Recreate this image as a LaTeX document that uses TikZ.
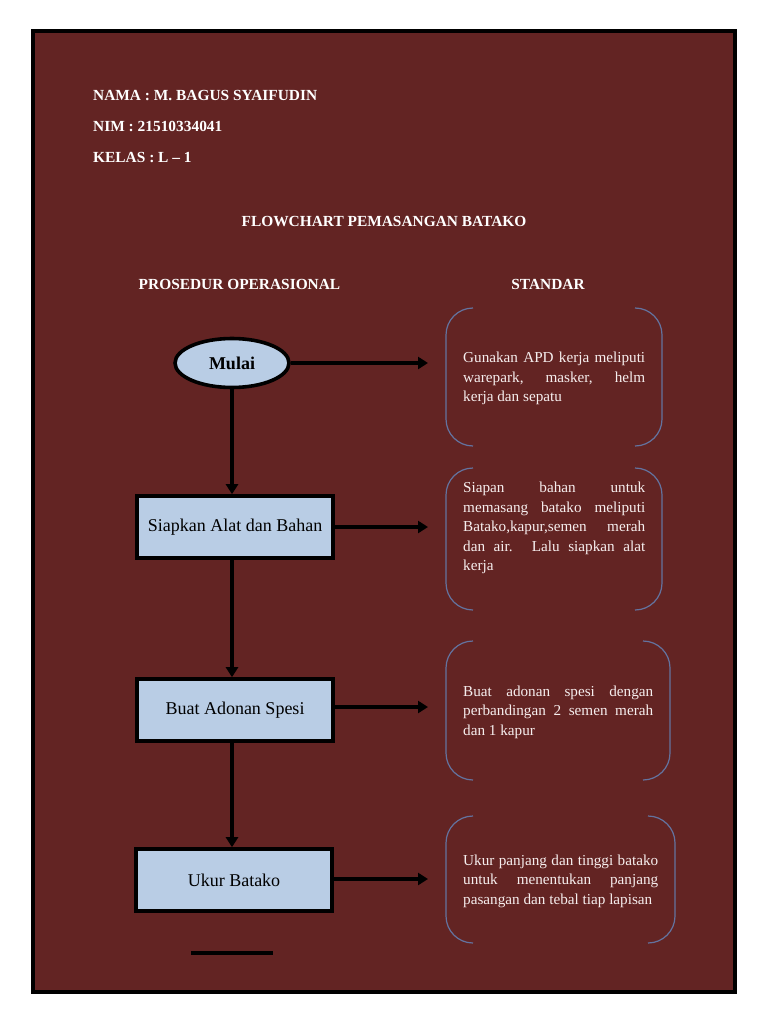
\documentclass[tikz,border=0pt]{standalone}
\usepackage{fontspec}
\setmainfont{Liberation Serif}
\usetikzlibrary{arrows.meta,shapes.geometric}
\definecolor{bgred}{HTML}{632423}
\definecolor{boxblue}{HTML}{B9CDE5}
\definecolor{brk}{HTML}{63739F}
\definecolor{txt}{HTML}{F6EEEE}
\newcommand{\jline}[2]{\makebox[#1][s]{\strut #2}}
\newcommand{\lline}[1]{\makebox[0pt][l]{\strut #1}}
\begin{document}
\begin{tikzpicture}[x=1pt,y=-1pt,
  head/.style={anchor=base west,inner sep=0,text=white,font=\bfseries\fontsize{15.4}{18}\selectfont},
  headc/.style={head,anchor=base},
  proc/.style={draw=black,line width=3.6pt,fill=boxblue,rectangle,minimum width=196pt,minimum height=62pt,inner sep=0,font=\fontsize{18}{22}\selectfont},
  startnode/.style={draw=black,line width=3.6pt,fill=boxblue,ellipse,minimum width=114pt,minimum height=49pt,inner sep=0,font=\bfseries\fontsize{18}{22}\selectfont},
  flow/.style={line width=3.6pt,-{Triangle[length=10pt,width=12pt]}},
  stdbox/.style={rectangle,draw=none,inner sep=0,outer sep=0},
  brack/.style={draw=brk,line width=1.2pt,rounded corners=27pt},
  stdtext/.style={anchor=west,align=left,inner sep=0,text=txt,font=\fontsize{15.2}{19.5}\selectfont}
]
\useasboundingbox (0,0) rectangle (768,1024);
\fill[white] (0,0) rectangle (768,1024);
\draw[line width=4pt,fill=bgred] (33,31) rectangle (735,992);

% header
\node[head] (nama) at (93,101) {NAMA : M. BAGUS SYAIFUDIN};
\node[head] (nim) at (93,132) {NIM : 21510334041};
\node[head] (kelas) at (93,163) {KELAS : L -- 1};
\node[headc] (title) at (384,226) {FLOWCHART PEMASANGAN BATAKO};
\node[headc] (hproc) at (239.5,289) {PROSEDUR OPERASIONAL};
\node[headc] (hstd) at (548,289) {STANDAR};

% procedure
\node[startnode] (start) at (232,363) {Mulai};
\node[proc] (s1) at (235,527) {Siapkan Alat dan Bahan};
\node[proc] (s2) at (235,710) {Buat Adonan Spesi};
\node[proc] (s3) at (234,880) {Ukur Batako};

\draw[flow] (start.south) -- (start.south |- s1.north);
\draw[flow] (start.south |- s1.south) -- (start.south |- s2.north);
\draw[flow] (start.south |- s2.south) -- (start.south |- s3.north);

\coordinate (e0) at (428,363);
\coordinate (e1) at (428,527);
\coordinate (e2) at (428,707);
\coordinate (e3) at (428,879);
\draw[flow] (start.east) -- (e0);
\draw[flow] (s1.east |- e1) -- (e1);
\draw[flow] (s2.east |- e2) -- (e2);
\draw[flow] (s3.east |- e3) -- (e3);

\coordinate (stubL) at (191,953);
\coordinate (stubR) at (273,953);
\draw[line width=3.4pt] (stubL) -- (stubR);

% standard boxes
\node[stdbox,minimum width=216pt,minimum height=138pt] (bA) at (554,377) {};
\node[stdbox,minimum width=216pt,minimum height=142pt] (bB) at (554,539) {};
\node[stdbox,minimum width=224pt,minimum height=139pt] (bC) at (558,710.5) {};
\node[stdbox,minimum width=229pt,minimum height=127pt] (bD) at (560.5,879.5) {};
\foreach \b in {bA,bB,bC,bD}{
  \draw[brack] ([xshift=27pt]\b.north west) -- (\b.north west) -- (\b.south west) -- ([xshift=27pt]\b.south west);
  \draw[brack] ([xshift=-27pt]\b.north east) -- (\b.north east) -- (\b.south east) -- ([xshift=-27pt]\b.south east);
}

\node[stdtext] (tA) at (463,378.5) {\jline{182pt}{Gunakan APD kerja meliputi}\\
  \jline{182pt}{warepark, masker, helm}\\
  \lline{kerja dan sepatu}};
\node[stdtext] (tB) at (463,528) {\jline{182pt}{Siapan bahan untuk}\\
  \jline{182pt}{memasang batako meliputi}\\
  \jline{182pt}{Batako,kapur,semen merah}\\
  \jline{182pt}{dan air. Lalu siapkan alat}\\
  \lline{kerja}};
\node[stdtext] (tC) at (463,712) {\jline{190pt}{Buat adonan spesi dengan}\\
  \jline{190pt}{perbandingan 2 semen merah}\\
  \lline{dan 1 kapur}};
\node[stdtext] (tD) at (463,881) {\jline{195pt}{Ukur panjang dan tinggi batako}\\
  \jline{195pt}{untuk menentukan panjang}\\
  \lline{pasangan dan tebal tiap lapisan}};
\end{tikzpicture}
\end{document}
